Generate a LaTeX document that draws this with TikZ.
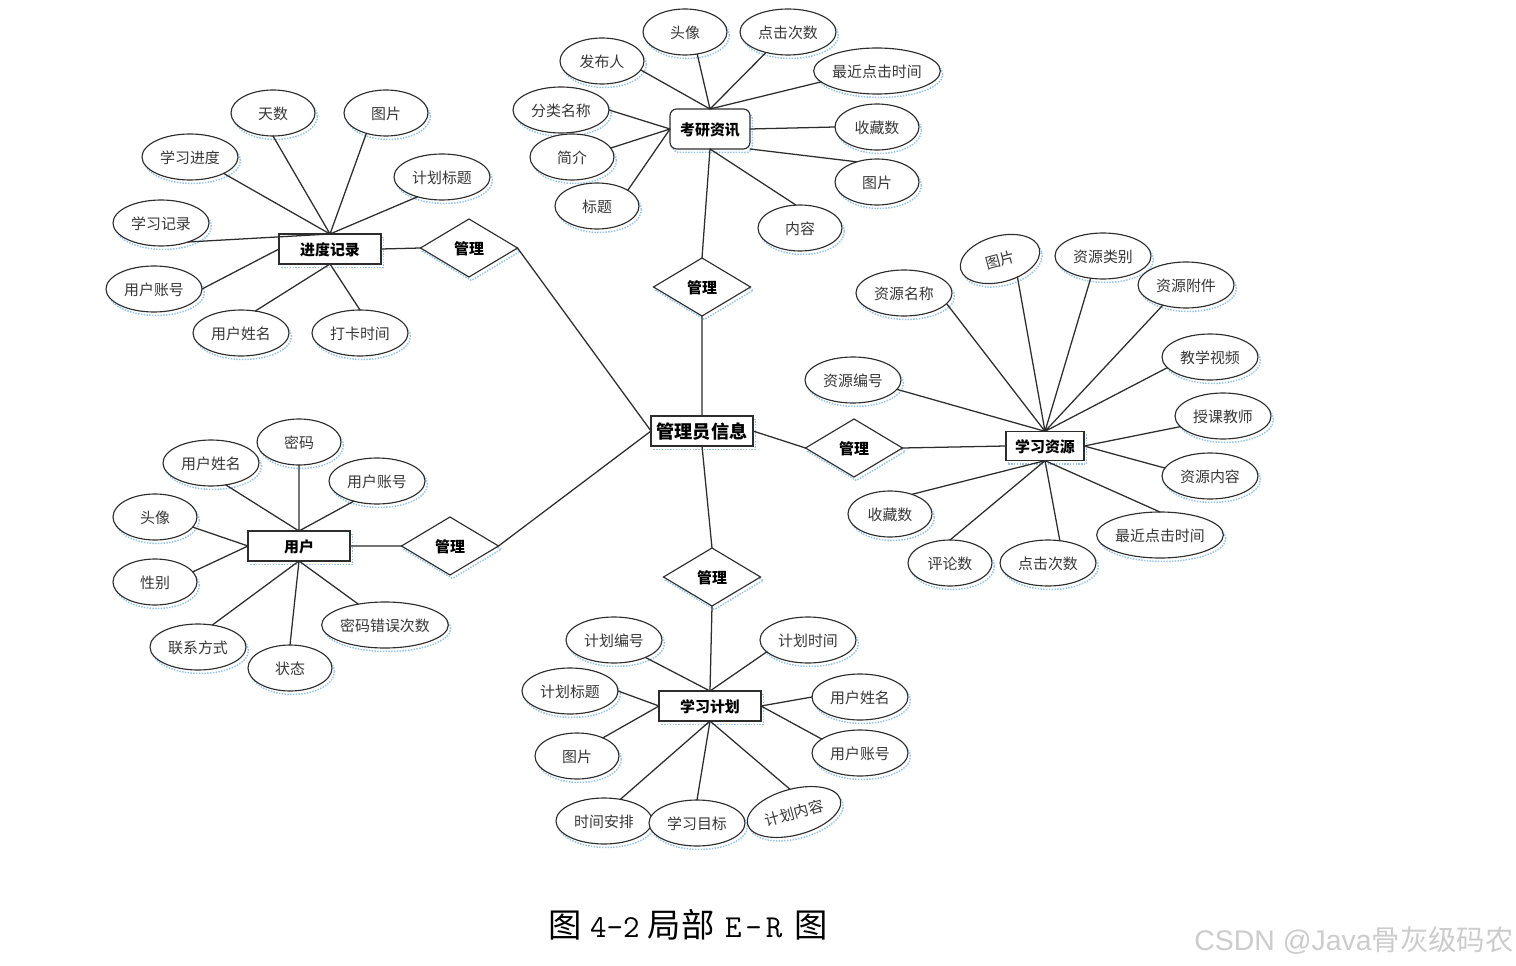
\documentclass[tikz,border=0pt]{standalone}
\usepackage{fontspec}
\setmainfont{Noto Sans CJK SC}
\newfontfamily\latinsans{Liberation Sans}
\usetikzlibrary{shapes.geometric}
\definecolor{shadowblue}{RGB}{150,195,235}
\definecolor{ink}{RGB}{45,45,45}
\tikzset{
  x=0.75pt,y=-0.75pt,
  shade blue/.style={preaction={draw=shadowblue,densely dotted,line width=1.1pt,transform canvas={shift={(1.8pt,-2.6pt)}}}},
  base/.style={shade blue,draw=ink,fill=white,line width=0.85pt,inner sep=0pt,outer sep=0pt,text=black!78,text height=10.8pt,text depth=1pt,font=\fontsize{11.2pt}{13pt}\selectfont},
  attr/.style={base,ellipse,minimum height=34.5pt},
  attrA/.style={attr,minimum width=63pt},
  attrB/.style={attr,minimum width=72pt},
  attrC/.style={attr,minimum width=95pt},
  entbox/.style={base,rectangle,minimum width=76.5pt,minimum height=22.5pt,text=black,font=\fontsize{11.2pt}{13pt}\selectfont\bfseries},
  rel/.style={base,diamond,minimum width=72.75pt,minimum height=43.5pt,text=black,font=\fontsize{11.2pt}{13pt}\selectfont\bfseries},
  link/.style={draw=ink,line width=0.95pt,line cap=round},
}
\begin{document}
\begin{tikzpicture}
\useasboundingbox (0,0) rectangle (1516,966);
% ---------- entities
\node[entbox,line width=1.1pt,text height=12.4pt,font=\fontsize{13.6pt}{15pt}\selectfont\bfseries] (admin) at (702,431) {管理员信息};
\node[entbox] (prog) at (330,249) {进度记录};
\node[entbox] (user) at (299,546) {用户};
\node[entbox,minimum width=58.5pt,minimum height=22pt] (res) at (1045,446) {学习资源};
\node[entbox] (plan) at (710,706) {学习计划};
\node[entbox,minimum width=60pt,minimum height=30pt,rounded corners=5pt] (news) at (710,129) {考研资讯};
% ---------- relations
\node[rel] (r1) at (469,248) {管理};
\node[rel] (r2) at (702,287) {管理};
\node[rel] (r3) at (854,448) {管理};
\node[rel] (r4) at (450,546) {管理};
\node[rel] (r5) at (712,577) {管理};
% ---------- progress attributes
\node[attrA] (p1) at (273,113) {天数};
\node[attrA] (p2) at (386,113) {图片};
\node[attrB] (p3) at (190,157) {学习进度};
\node[attrB] (p4) at (442,177) {计划标题};
\node[attrB] (p5) at (161,223) {学习记录};
\node[attrB] (p6) at (154,289) {用户账号};
\node[attrB] (p7) at (241,333) {用户姓名};
\node[attrB] (p8) at (360,333) {打卡时间};
\draw[link] (prog.north) -- (p1.-90) (prog.north) -- (p2.-134) (prog.north) -- (p3.-26) (prog.north) -- (p4.-141) (prog.north) -- (p5.-35);
\draw[link] (prog.west) -- (p6.0) (prog.south) -- (p7.57) (prog.south) -- (p8.90);
% ---------- news attributes
\node[attrA] (n1) at (685,32) {头像};
\node[attrB] (n2) at (788,32) {点击次数};
\node[attrA] (n3) at (602,61) {发布人};
\node[attrC] (n4) at (877,71) {最近点击时间};
\node[attrB] (n5) at (561,110) {分类名称};
\node[attrA] (n6) at (877,127) {收藏数};
\node[attrA] (n7) at (572,157) {简介};
\node[attrA] (n8) at (877,182) {图片};
\node[attrA] (n9) at (597,206) {标题};
\node[attrA] (n10) at (800,228) {内容};
\draw[link] (news.north) -- (n1.-61) (news.north) -- (n2.-137) (news.north) -- (n3.-13) (news.north) -- (n4.-169);
\draw[link] (news.west) -- (n5.0) (news.west) -- (n7.13) (news.west) -- (n9.27);
\draw[link] (news.east) -- (n6.180) (news.south east) -- (n8.135) (news.south) -- (n10.100);
% ---------- resource attributes
\node[attrA,minimum width=61pt,rotate=15] (s1) at (1000,259) {图片};
\node[attrB] (s2) at (1103,256) {资源类别};
\node[attrB] (s3) at (904,293) {资源名称};
\node[attrB] (s4) at (1186,285) {资源附件};
\node[attrB] (s5) at (1210,357) {教学视频};
\node[attrB] (s6) at (853,380) {资源编号};
\node[attrB] (s7) at (1223,416) {授课教师};
\node[attrB] (s8) at (1210,476) {资源内容};
\node[attrA] (s9) at (890,514) {收藏数};
\node[attrC] (s10) at (1160,535) {最近点击时间};
\node[attrA] (s11) at (950,563) {评论数};
\node[attrB] (s12) at (1048,563) {点击次数};
\draw[link] (res.north) -- (s1.-61) (res.north) -- (s2.-119) (res.north) -- (s3.-14) (res.north) -- (s4.-139) (res.north) -- (s5.-166) (res.north) -- (s6.-12);
\draw[link] (res.east) -- (s7.-166) (res.east) -- (s8.170);
\draw[link] (res.south) -- (s9.42) (res.south) -- (s10.90) (res.south) -- (s11.90) (res.south) -- (s12.62);
% ---------- user attributes
\node[attrA] (u1) at (299,442) {密码};
\node[attrB] (u2) at (211,463) {用户姓名};
\node[attrB] (u3) at (377,481) {用户账号};
\node[attrA] (u4) at (155,517) {头像};
\node[attrA] (u5) at (155,582) {性别};
\node[attrB] (u6) at (198,647) {联系方式};
\node[attrA] (u7) at (290,668) {状态};
\node[attrC] (u8) at (385,625) {密码错误次数};
\draw[link] (user.north) -- (u1.-90) (user.north) -- (u2.-56) (user.north) -- (u3.-139);
\draw[link] (user.west) -- (u4.-15) (user.west) -- (u5.15);
\draw[link] (user.south) -- (u6.57) (user.south) -- (u7.90) (user.south) -- (u8.142);
% ---------- plan attributes
\node[attrB] (l1) at (614,640) {计划编号};
\node[attrB] (l2) at (808,640) {计划时间};
\node[attrB] (l3) at (570,691) {计划标题};
\node[attrB] (l4) at (860,697) {用户姓名};
\node[attrA] (l5) at (577,756) {图片};
\node[attrB] (l6) at (860,753) {用户账号};
\node[attrB] (l7) at (604,821) {时间安排};
\node[attrB] (l8) at (697,823) {学习目标};
\node[attrB,rotate=15] (l9) at (794,812) {计划内容};
\draw[link] (plan.north) -- (l1.-29) (plan.north) -- (l2.-164);
\draw[link] (plan.west) -- (l3.0) (plan.west) -- (l5.35);
\draw[link] (plan.east) -- (l4.180) (plan.east) -- (l6.160);
\draw[link] (plan.south) -- (l7.53) (plan.south) -- (l8.90) (plan.south) -- (l9.85);
% ---------- relationships
\draw[link] (prog.east) -- (r1.west) (r1.east) -- (admin.west);
\draw[link] (news.south) -- (r2.north) (r2.south) -- (admin.north);
\draw[link] (admin.east) -- (r3.west) (r3.east) -- (res.west);
\draw[link] (user.east) -- (r4.west) (r4.east) -- (admin.west);
\draw[link] (admin.south) -- (r5.north) (r5.south) -- (plan.north);
% ---------- caption and watermark
\node[inner sep=0pt,font=\fontsize{25pt}{28pt}\selectfont] (cap) at (688,925) {图\hspace{6.5pt}{\ttfamily\fontsize{24pt}{28pt}\selectfont 4-2}\hspace{6pt}局部\hspace{8pt}{\ttfamily\fontsize{24pt}{28pt}\selectfont E\kern3pt-\kern3pt R}\hspace{9pt}图};
\node[inner sep=0pt,text=black!20,font=\fontsize{21.3pt}{26pt}\selectfont] (mark) at (1354,940) {{\latinsans CSDN @Java}骨灰级码农};
\end{tikzpicture}
\end{document}
